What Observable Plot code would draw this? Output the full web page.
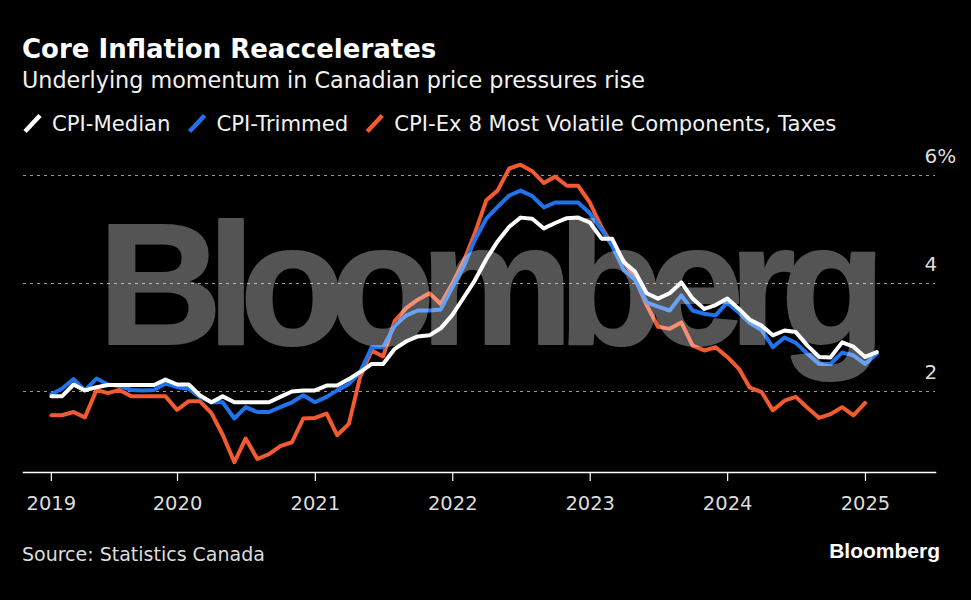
<!DOCTYPE html>
<html>
<head>
<meta charset="utf-8">
<script src="https://cdn.jsdelivr.net/npm/d3@7"></script>
<script src="https://cdn.jsdelivr.net/npm/@observablehq/plot@0.6"></script>
<style>
  html, body { margin: 0; padding: 0; background: #000; }
  #wrap { position: relative; width: 971px; height: 600px; background: #000; overflow: hidden; }
  #overlay { position: absolute; left: 0; top: 0; }
  #chart { position: absolute; left: 0; top: 140px; }
</style>
</head>
<body>
<div id="wrap">
  <div id="chart"></div>
  <svg id="overlay" width="971" height="600"></svg>
</div>
<script>
// ---------------- data ----------------
const title = "Core Inflation Reaccelerates";
const subtitle = "Underlying momentum in Canadian price pressures rise";
const source = "Source: Statistics Canada";
const seriesNames = ["CPI-Median", "CPI-Trimmed", "CPI-Ex 8 Most Volatile Components, Taxes"];
const seriesColors = ["#ffffff", "#1f74ee", "#f25a30"];
const firstMonth = [2019, 0]; // January 2019, monthly data plotted at month end

// CPI-Median, y/y %, Jan 2019 - Jan 2025
const median = [
  1.91, 1.91, 2.13, 2.02, 2.08, 2.12, 2.12, 2.12, 2.12, 2.12, 2.22, 2.13, 2.13,
  1.93, 1.80, 1.91, 1.80, 1.80, 1.80, 1.80, 1.90, 2.00, 2.02, 2.02, 2.11, 2.11,
  2.23, 2.36, 2.51, 2.51, 2.79, 2.93, 3.02, 3.04, 3.17, 3.42, 3.75,
  4.05, 4.45, 4.78, 5.05, 5.22, 5.20, 5.02, 5.12, 5.21, 5.22, 5.13, 4.83,
  4.83, 4.40, 4.22, 3.82, 3.72, 3.82, 4.02, 3.72, 3.53, 3.60, 3.72, 3.53,
  3.33, 3.22, 3.04, 3.13, 3.10, 2.85, 2.64, 2.63, 2.91, 2.83, 2.64, 2.73
];
// CPI-Trimmed, y/y %, Jan 2019 - Jan 2025
const trimmed = [
  1.95, 2.05, 2.23, 2.02, 2.24, 2.13, 2.10, 2.03, 2.02, 2.03, 2.15, 2.08, 2.05,
  1.90, 1.80, 1.80, 1.50, 1.71, 1.62, 1.62, 1.71, 1.80, 1.93, 1.80, 1.90, 2.02,
  2.14, 2.36, 2.82, 2.82, 3.22, 3.41, 3.50, 3.50, 3.52, 3.93, 4.33,
  4.80, 5.20, 5.42, 5.63, 5.72, 5.62, 5.41, 5.50, 5.50, 5.50, 5.30, 5.00,
  4.70, 4.25, 4.07, 3.65, 3.57, 3.50, 3.78, 3.50, 3.44, 3.41, 3.65, 3.46,
  3.27, 3.14, 2.82, 3.00, 2.90, 2.70, 2.51, 2.51, 2.72, 2.67, 2.51, 2.70
];
// CPI excluding 8 most volatile components and taxes, y/y %, Jan 2019 - Dec 2024
const ex8 = [
  1.56, 1.56, 1.62, 1.52, 2.03, 1.97, 2.03, 1.91, 1.91, 1.91, 1.91, 1.66, 1.82,
  1.82, 1.60, 1.20, 0.69, 1.13, 0.75, 0.84, 0.99, 1.06, 1.50, 1.51, 1.59, 1.19,
  1.40, 2.27, 2.76, 2.65, 3.31, 3.55, 3.70, 3.82, 3.62, 4.00, 4.43,
  4.92, 5.54, 5.72, 6.13, 6.20, 6.08, 5.86, 5.98, 5.81, 5.81, 5.50, 5.04,
  4.72, 4.42, 4.10, 3.60, 3.20, 3.16, 3.28, 2.85, 2.76, 2.82, 2.64, 2.42,
  2.07, 1.99, 1.65, 1.83, 1.90, 1.70, 1.51, 1.58, 1.71, 1.56, 1.79
];
const yTicks = [2, 4, 6];
const xTickYears = [2020, 2021, 2022, 2023, 2024, 2025];
const xDomain = ["2018-11-18", "2025-07-06"];
const yDomain = [0.5, 6.5];

// ---------------- build ----------------
const monthEnd = i => d3.utcDay.offset(d3.utcMonth.offset(new Date(Date.UTC(firstMonth[0], firstMonth[1], 1)), i + 1), -1);
const toRows = (vals, name) => vals.map((v, i) => ({date: monthEnd(i), value: v, series: name}));
const allSeries = [median, trimmed, ex8].map((vals, k) => toRows(vals, seriesNames[k]));
const xTicks = [monthEnd(0), ...xTickYears.map(y => new Date(Date.UTC(y, 0, 1)))];

const FONT = "'DejaVu Sans', sans-serif";

const chart = Plot.plot({
  width: 971,
  height: 390,
  marginLeft: 23,
  marginRight: 36,
  marginTop: 8,
  marginBottom: 58,
  style: {background: "transparent", color: "#dddddd", fontFamily: FONT, overflow: "visible"},
  x: {type: "utc", domain: xDomain.map(d => new Date(d)), label: null},
  y: {domain: yDomain, label: null},
  marks: [
    Plot.gridY({ticks: yTicks, stroke: "#aaaaaa", strokeOpacity: 0.9, strokeWidth: 1.2, strokeDasharray: "3,4"}),
    Plot.lineY(allSeries[2], {x: "date", y: "value", stroke: seriesColors[2], strokeWidth: 4, strokeLinejoin: "round"}),
    Plot.lineY(allSeries[1], {x: "date", y: "value", stroke: seriesColors[1], strokeWidth: 4, strokeLinejoin: "round"}),
    Plot.lineY(allSeries[0], {x: "date", y: "value", stroke: seriesColors[0], strokeWidth: 4, strokeLinejoin: "round"}),
    Plot.frame({anchor: "bottom", stroke: "#ffffff", strokeWidth: 1.5}),
    Plot.axisX({ticks: xTicks, tickSize: 9, tickPadding: 15, tickFormat: d3.utcFormat("%Y"),
      stroke: "#ffffff", strokeWidth: 1.2, fill: "#dddddd", fontSize: 19.5, label: null}),
    Plot.axisY({ticks: yTicks, anchor: "right", tickSize: 0, tickPadding: 0, dx: -11, dy: -13,
      textAnchor: "start", lineAnchor: "bottom", tickFormat: d => d === 6 ? "6%" : String(d),
      fill: "#dddddd", fontSize: 20, label: null})
  ]
});
document.getElementById("chart").appendChild(chart);

// Bloomberg watermark over the lines (semi-transparent), under the axis
const svgSel = d3.select(chart.tagName.toLowerCase() === "svg" ? chart : chart.querySelector("svg"));
svgSel.insert("g", "[aria-label='frame']")
  .attr("opacity", 0.33)
  .append("text")
  .attr("x", 98).attr("y", 204)
  .attr("text-anchor", "start")
  .attr("font-family", "'Liberation Sans', Arial, sans-serif")
  .attr("font-weight", "bold")
  .attr("font-size", 172)
  .attr("letter-spacing", -15)
  .attr("fill", "#ffffff")
  .attr("stroke", "#ffffff")
  .attr("stroke-width", 2)
  .attr("stroke-linejoin", "round")
  .text("Bloomberg");

// ---------------- header / footer ----------------
const ov = d3.select("#overlay");
ov.append("text").attr("x", 22).attr("y", 58)
  .attr("font-family", FONT).attr("font-weight", "bold").attr("font-size", 26)
  .attr("fill", "#ffffff").text(title);
ov.append("text").attr("x", 22).attr("y", 88)
  .attr("font-family", FONT).attr("font-size", 22.3)
  .attr("fill", "#f2f2f2").text(subtitle);

// legend, laid out from measured text widths
let lx = 25;
seriesNames.forEach((name, k) => {
  ov.append("line")
    .attr("x1", lx).attr("y1", 131.5).attr("x2", lx + 15).attr("y2", 115.5)
    .attr("stroke", seriesColors[k]).attr("stroke-width", 4.5).attr("stroke-linecap", "butt");
  const t = ov.append("text").attr("x", lx + 27).attr("y", 131)
    .attr("font-family", FONT).attr("font-size", 21.2)
    .attr("fill", "#f2f2f2").text(name);
  lx = lx + 27 + t.node().getComputedTextLength() + 19;
});

ov.append("text").attr("x", 22).attr("y", 561)
  .attr("font-family", FONT).attr("font-size", 19)
  .attr("fill", "#dddddd").text(source);
ov.append("text").attr("x", 940).attr("y", 558).attr("text-anchor", "end")
  .attr("font-family", "'Liberation Sans', Arial, sans-serif").attr("font-weight", "bold").attr("font-size", 21)
  .attr("fill", "#ffffff").text("Bloomberg");
</script>
</body>
</html>
